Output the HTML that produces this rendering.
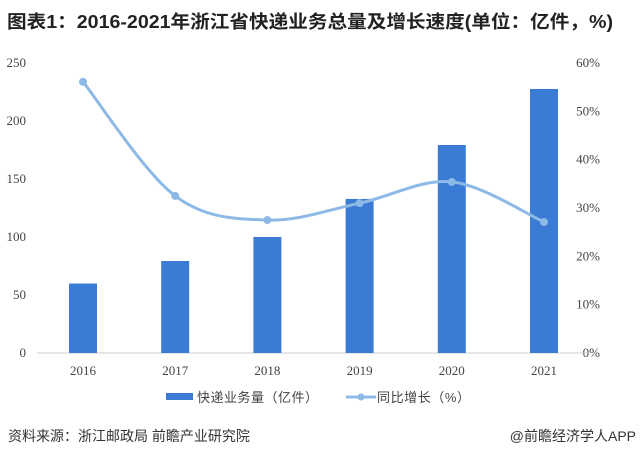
<!DOCTYPE html>
<html><head><meta charset="utf-8"><style>
body{margin:0;background:#fff;width:640px;height:457px;overflow:hidden;font-family:"Liberation Sans","Noto Sans CJK SC",sans-serif}
</style></head><body>
<svg id="c" width="640" height="457" xmlns="http://www.w3.org/2000/svg">
<text x="310" y="28" text-anchor="middle" font-size="18" font-weight="bold" fill="#222" textLength="606" lengthAdjust="spacingAndGlyphs" font-family="Liberation Sans,Noto Sans CJK SC,sans-serif">图表1：2016-2021年浙江省快递业务总量及增长速度(单位：亿件，%)</text>
<g id="ax"></g><g id="bars"></g><g id="line"></g>
<g>
<rect x="166" y="393" width="27" height="7" fill="#3a7bd5"/>
<text x="197" y="402" font-size="13" fill="#444" textLength="121">快递业务量（亿件）</text>
<line x1="346" y1="397" x2="376" y2="397" stroke="#8db9e6" stroke-width="3"/>
<circle cx="361" cy="397" r="3.5" fill="#8db9e6"/>
<text x="377" y="402" font-size="13" fill="#444" textLength="93">同比增长（%）</text>
</g>
<text x="8" y="441" font-size="14" fill="#333">资料来源：浙江邮政局 前瞻产业研究院</text>
<text x="636" y="441" text-anchor="end" font-size="14" fill="#333">@前瞻经济学人APP</text>
</svg>
<script>
const years=["2016","2017","2018","2019","2020","2021"];
const volume=[59.9,79.3,100.0,132.8,179.3,227.6];
const growth=[56.1,32.5,27.5,31.0,35.4,27.1];
const leftTicks=[0,50,100,150,200,250];
const rightTicks=[0,10,20,30,40,50,60];
const NS="http://www.w3.org/2000/svg";
const y0=353,yTop=63;
const xs=i=>83+i*92.2;
const yL=v=>y0-(v/250)*(y0-yTop);
const yR=v=>y0-(v/60)*(y0-yTop);
function mk(t,a,p){const e=document.createElementNS(NS,t);for(const k in a)e.setAttribute(k,a[k]);p.appendChild(e);return e;}
const ax=document.getElementById('ax');
leftTicks.forEach(v=>{const t=mk('text',{x:26,y:yL(v)+4,'text-anchor':'end','font-size':13,fill:'#444','font-family':'Liberation Serif,serif'},ax);t.textContent=v;

});
rightTicks.forEach(v=>{const t=mk('text',{x:600,y:yR(v)+4,'text-anchor':'end','font-size':13,fill:'#444','font-family':'Liberation Serif,serif'},ax);t.textContent=v+'%';

});
const base=mk('line',{x1:37,y1:y0,x2:590,y2:y0,stroke:'#ccc'},ax);


years.forEach((y,i)=>{const t=mk('text',{x:xs(i),y:375,'text-anchor':'middle','font-size':13,fill:'#444','font-family':'Liberation Serif,serif'},ax);t.textContent=y;

});
const bg=document.getElementById('bars');
volume.forEach((v,i)=>{const r=mk('rect',{x:xs(i)-14,y:yL(v),width:28,height:y0-yL(v),fill:'#3a7bd5'},bg);

});
const lg=document.getElementById('line');
const P=growth.map((v,i)=>[xs(i),yR(v)]);
let d='M'+P[0][0]+','+P[0][1];
for(let i=0;i<P.length-1;i++){const p0=P[i-1]||P[i],p1=P[i],p2=P[i+1],p3=P[i+2]||P[i+1];
d+=` C${p1[0]+(p2[0]-p0[0])/6},${p1[1]+(p2[1]-p0[1])/6} ${p2[0]-(p3[0]-p1[0])/6},${p2[1]-(p3[1]-p1[1])/6} ${p2[0]},${p2[1]}`;}
const path=mk('path',{d:d,fill:'none',stroke:'#8db9e6','stroke-width':3},lg);


P.forEach((p,i)=>{const c=mk('circle',{cx:p[0],cy:p[1],r:4,fill:'#8db9e6'},lg);

});
</script>
</body></html>
